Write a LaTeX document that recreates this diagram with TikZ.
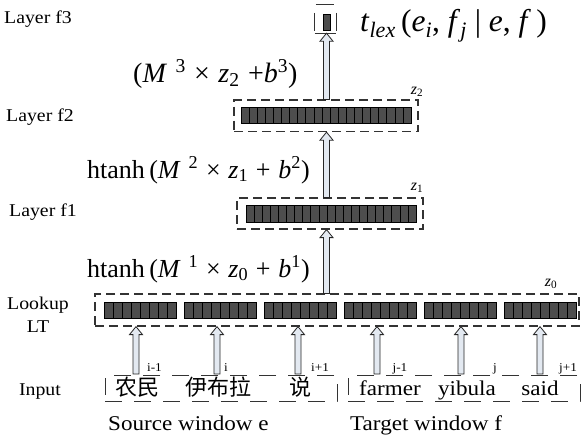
\documentclass[tikz,border=0pt]{standalone}
\usepackage{fontspec}
\setmainfont{Liberation Serif}[FakeStretch=1.1]
\newfontfamily\eqfont{Liberation Serif}
\newfontfamily\cjk{Noto Sans CJK SC}
\usetikzlibrary{calc}

\definecolor{cellgray}{HTML}{4D4D4D}
\definecolor{arrowfill}{HTML}{E3E9F1}
\definecolor{framegray}{HTML}{333333}

\newcommand\fsz[1]{\fontsize{#1}{#1}\selectfont}
\newcommand\sps[1]{\textsuperscript{#1}}
\newcommand\sbs[1]{\textsubscript{#1}}
\newcommand\gap{\hspace{0.3em}}

% a row of n cells: left x, top y, n, cell width, cell height
\newcommand\cellrow[5]{%
  \foreach \k in {1,...,#3} {\draw[cellbox] ({#1+(\k-1)*#4},#2) rectangle ++(#4,#5);}}

% hollow upward block arrow from a base point to a tip point
\newcommand\blockarrow[2]{%
  \draw[hollowarrow] ($(#1)+(-3,0)$) -- ($(#2)+(-3,8)$) -- ($(#2)+(-6.5,8)$)
    -- (#2) -- ($(#2)+(6.5,8)$) -- ($(#2)+(3,8)$) -- ($(#1)+(3,0)$) -- cycle;}

\tikzset{
  cellbox/.style={fill=cellgray, draw=black, line width=0.6pt},
  layerframe/.style={draw=framegray, dash pattern=on 9pt off 5pt, line width=1.2pt, inner sep=0pt},
  wordframe/.style={draw=framegray, dash pattern=on 17pt off 12pt, line width=1pt, inner sep=0pt},
  hollowarrow/.style={fill=arrowfill, draw=black!85, line width=0.8pt},
  bracket/.style={draw=framegray, line width=1.1pt},
  layerlabel/.style={font=\fsz{18}, anchor=base, inner sep=0pt},
  word/.style={font=\fsz{21}, anchor=base, inner sep=0pt},
  cjkword/.style={font=\cjk\fsz{22}, anchor=base, inner sep=0pt},
  idx/.style={font=\fsz{12}, anchor=base, inner sep=0pt},
  zlabel/.style={font=\eqfont\fsz{16}, inner sep=0pt},
  formula/.style={font=\eqfont\fsz{26}, anchor=base west, inner sep=0pt},
}

\begin{document}
\begin{tikzpicture}[x=1pt, y=-1pt]
\fill[white] (0,0) rectangle (581,439);
\useasboundingbox (0,0) rectangle (581,439);

% layer names
\node[layerlabel] (lf3) at (38,23.5) {Layer f3};
\node[layerlabel] (lf2) at (40,121) {Layer f2};
\node[layerlabel] (lf1) at (43,216) {Layer f1};
\node[layerlabel] (llook) at (38,309) {Lookup};
\node[layerlabel] (llt) at (38,332) {LT};
\node[layerlabel] (lin) at (40,395) {Input};

% output unit
\node[cellbox, minimum width=7pt, minimum height=16pt, inner sep=0pt] (f3) at (326.5,22) {};
\node[minimum width=21pt, minimum height=28pt, inner sep=0pt] (f3frame) at (325.5,19) {};
\draw[bracket] ([xshift=1pt]f3frame.north west) -- ([xshift=-2pt]f3frame.north east);
\draw[bracket] ([yshift=-8pt]f3frame.north west) -- ([yshift=2pt]f3frame.south west);
\draw[bracket] ([yshift=-8pt]f3frame.north east) -- ([yshift=2pt]f3frame.south east);
\draw[bracket] (f3frame.south west) -- (f3frame.south east);

% hidden layers
\cellrow{241}{107}{21}{8.095}{16}
\node[layerframe, minimum width=184pt, minimum height=31.5pt] (f2box) at (326,115.8) {};
\node[zlabel] (z2) at (417,92) {\textit{z}\sbs{2}};

\cellrow{246}{205}{21}{8.095}{17}
\node[layerframe, minimum width=186pt, minimum height=31pt] (f1box) at (330,213.5) {};
\node[zlabel] (z1) at (417,188) {\textit{z}\sbs{1}};

% lookup table
\foreach \g in {0,...,5} {\cellrow{104+80*\g}{302}{8}{9}{16}}
\node[layerframe, minimum width=484pt, minimum height=32pt] (ltbox) at (337,310) {};
\node[zlabel] (z0) at (551,284) {\textit{z}\sbs{0}};

% input windows
\node[wordframe, minimum width=232pt, minimum height=26pt] (src) at (221,388) {};
\node[wordframe, minimum width=232pt, minimum height=26pt] (tgt) at (464,388) {};

\node[cjkword] (w1) at (137,395) {农民};
\node[cjkword] (w2) at (218,395) {伊布拉};
\node[cjkword] (w3) at (300,395) {说};
\node[word] (w4) at (390,395) {farmer};
\node[word] (w5) at (467,395) {yibula};
\node[word] (w6) at (540,395) {said};

\node[idx] (i1) at (154.5,371) {i-1};
\node[idx] (i2) at (226,371) {i};
\node[idx] (i3) at (320,371) {i+1};
\node[idx] (j1) at (400,371) {j-1};
\node[idx] (j2) at (495,371) {j};
\node[idx] (j3) at (568,371) {j+1};

\node[word, anchor=base west] (srclab) at (108,430) {Source window e};
\node[word, anchor=base west] (tgtlab) at (350,430) {Target window f};

% formulas
\node[formula, font=\eqfont\fsz{31.5}] (tlex) at (360,31)
  {\textit{t}\sbs{\textit{lex}}\,(\textit{e}\sbs{\textit{i}}, \textit{f}\sbs{\textit{j}} | \textit{e}, \textit{f}\,)};
\node[formula, font=\eqfont\fsz{28}] (eq3) at (133,82)
  {(\textit{M}\gap\sps{3}\gap×\gap\textit{z}\sbs{2}\gap+\textit{b}\sps{3})};
\node[formula] (eq2) at (87,178)
  {htanh\,(\textit{M}\gap\sps{2}\gap×\gap\textit{z}\sbs{1}\gap+\gap\textit{b}\sps{2})};
\node[formula] (eq1) at (87,277)
  {htanh\,(\textit{M}\gap\sps{1}\gap×\gap\textit{z}\sbs{0}\gap+\gap\textit{b}\sps{1})};

% connections
\blockarrow{f2box.north -| f3}{f3frame.south -| f3}
\blockarrow{f1box.north -| f3}{f2box.south -| f3}
\blockarrow{ltbox.north -| f3}{f1box.south -| f3}

\coordinate (a1) at (136,374);
\coordinate (a2) at (217,374);
\coordinate (a3) at (298,374);
\coordinate (a4) at (377,374);
\coordinate (a5) at (461,374);
\coordinate (a6) at (540,374);
\foreach \a in {a1,a2,a3,a4,a5,a6} {\blockarrow{\a}{\a |- ltbox.south}}
\end{tikzpicture}
\end{document}
